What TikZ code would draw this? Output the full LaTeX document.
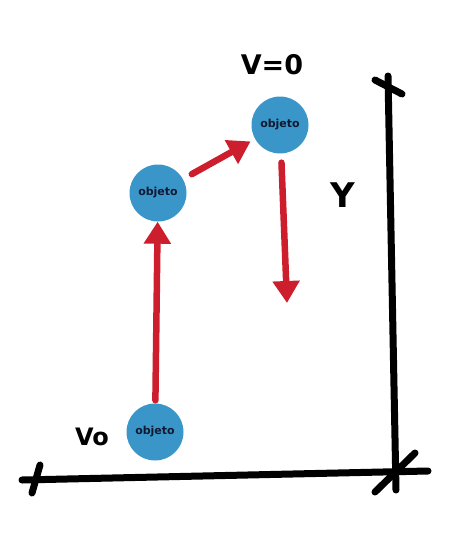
\documentclass[tikz,border=0pt]{standalone}
\usepackage{fontspec}
\setmainfont{DejaVu Sans}
\usepackage{tikz}
\usetikzlibrary{arrows.meta}

\definecolor{azulbola}{RGB}{58,150,200}
\definecolor{rojoflecha}{RGB}{205,30,45}
\definecolor{textobola}{RGB}{15,25,50}

\tikzset{
  objeto/.style={circle, fill=azulbola, minimum size=57pt, inner sep=0pt,
    text=textobola, font=\bfseries\fontsize{11}{11}\selectfont},
  flecha/.style={rojoflecha, line width=6.5pt, line cap=round,
    -{Triangle[width=26pt,length=22pt]}},
  eje/.style={line width=7pt, line cap=round},
  etiqueta/.style={font=\bfseries}
}

\begin{document}
\begin{tikzpicture}[x=1pt, y=-1pt]
				\useasboundingbox (0,0) rectangle (474,555);

				% Dibujar los ejes
				\draw[eje] (388,76) -- (396,490);
				\draw[eje] (22,480) -- (428,471);
				\draw[eje] (375,80) -- (402,94);
				\draw[eje] (375,492) -- (415,453);
				\draw[eje] (40,465) -- (32,493);

				% Dibujar los objetos
				\node[objeto] (inicio) at (155,432) {objeto};
				\node[objeto] (medio) at (158,193) {objeto};
				\node[objeto] (cima) at (280,125) {objeto};
				\coordinate (caida) at (287,303);

				% Dibujar las flechas
				\draw[flecha, shorten <=3pt] (inicio) -- (medio);
				\draw[flecha, shorten <=10pt, shorten >=5pt] (medio) -- (cima);
				\draw[flecha, shorten <=9pt] (cima) -- (caida);

				% Dibujar etiquetas
				\node[etiqueta, font=\bfseries\fontsize{27}{27}\selectfont] (vcero) at (272,65) {V=0};
				\node[etiqueta, font=\bfseries\fontsize{34}{34}\selectfont] (ye) at (343,195) {Y};
				\node[etiqueta, font=\bfseries\fontsize{24}{24}\selectfont] (vo) at (92,437) {Vo};

			\end{tikzpicture}
\end{document}
